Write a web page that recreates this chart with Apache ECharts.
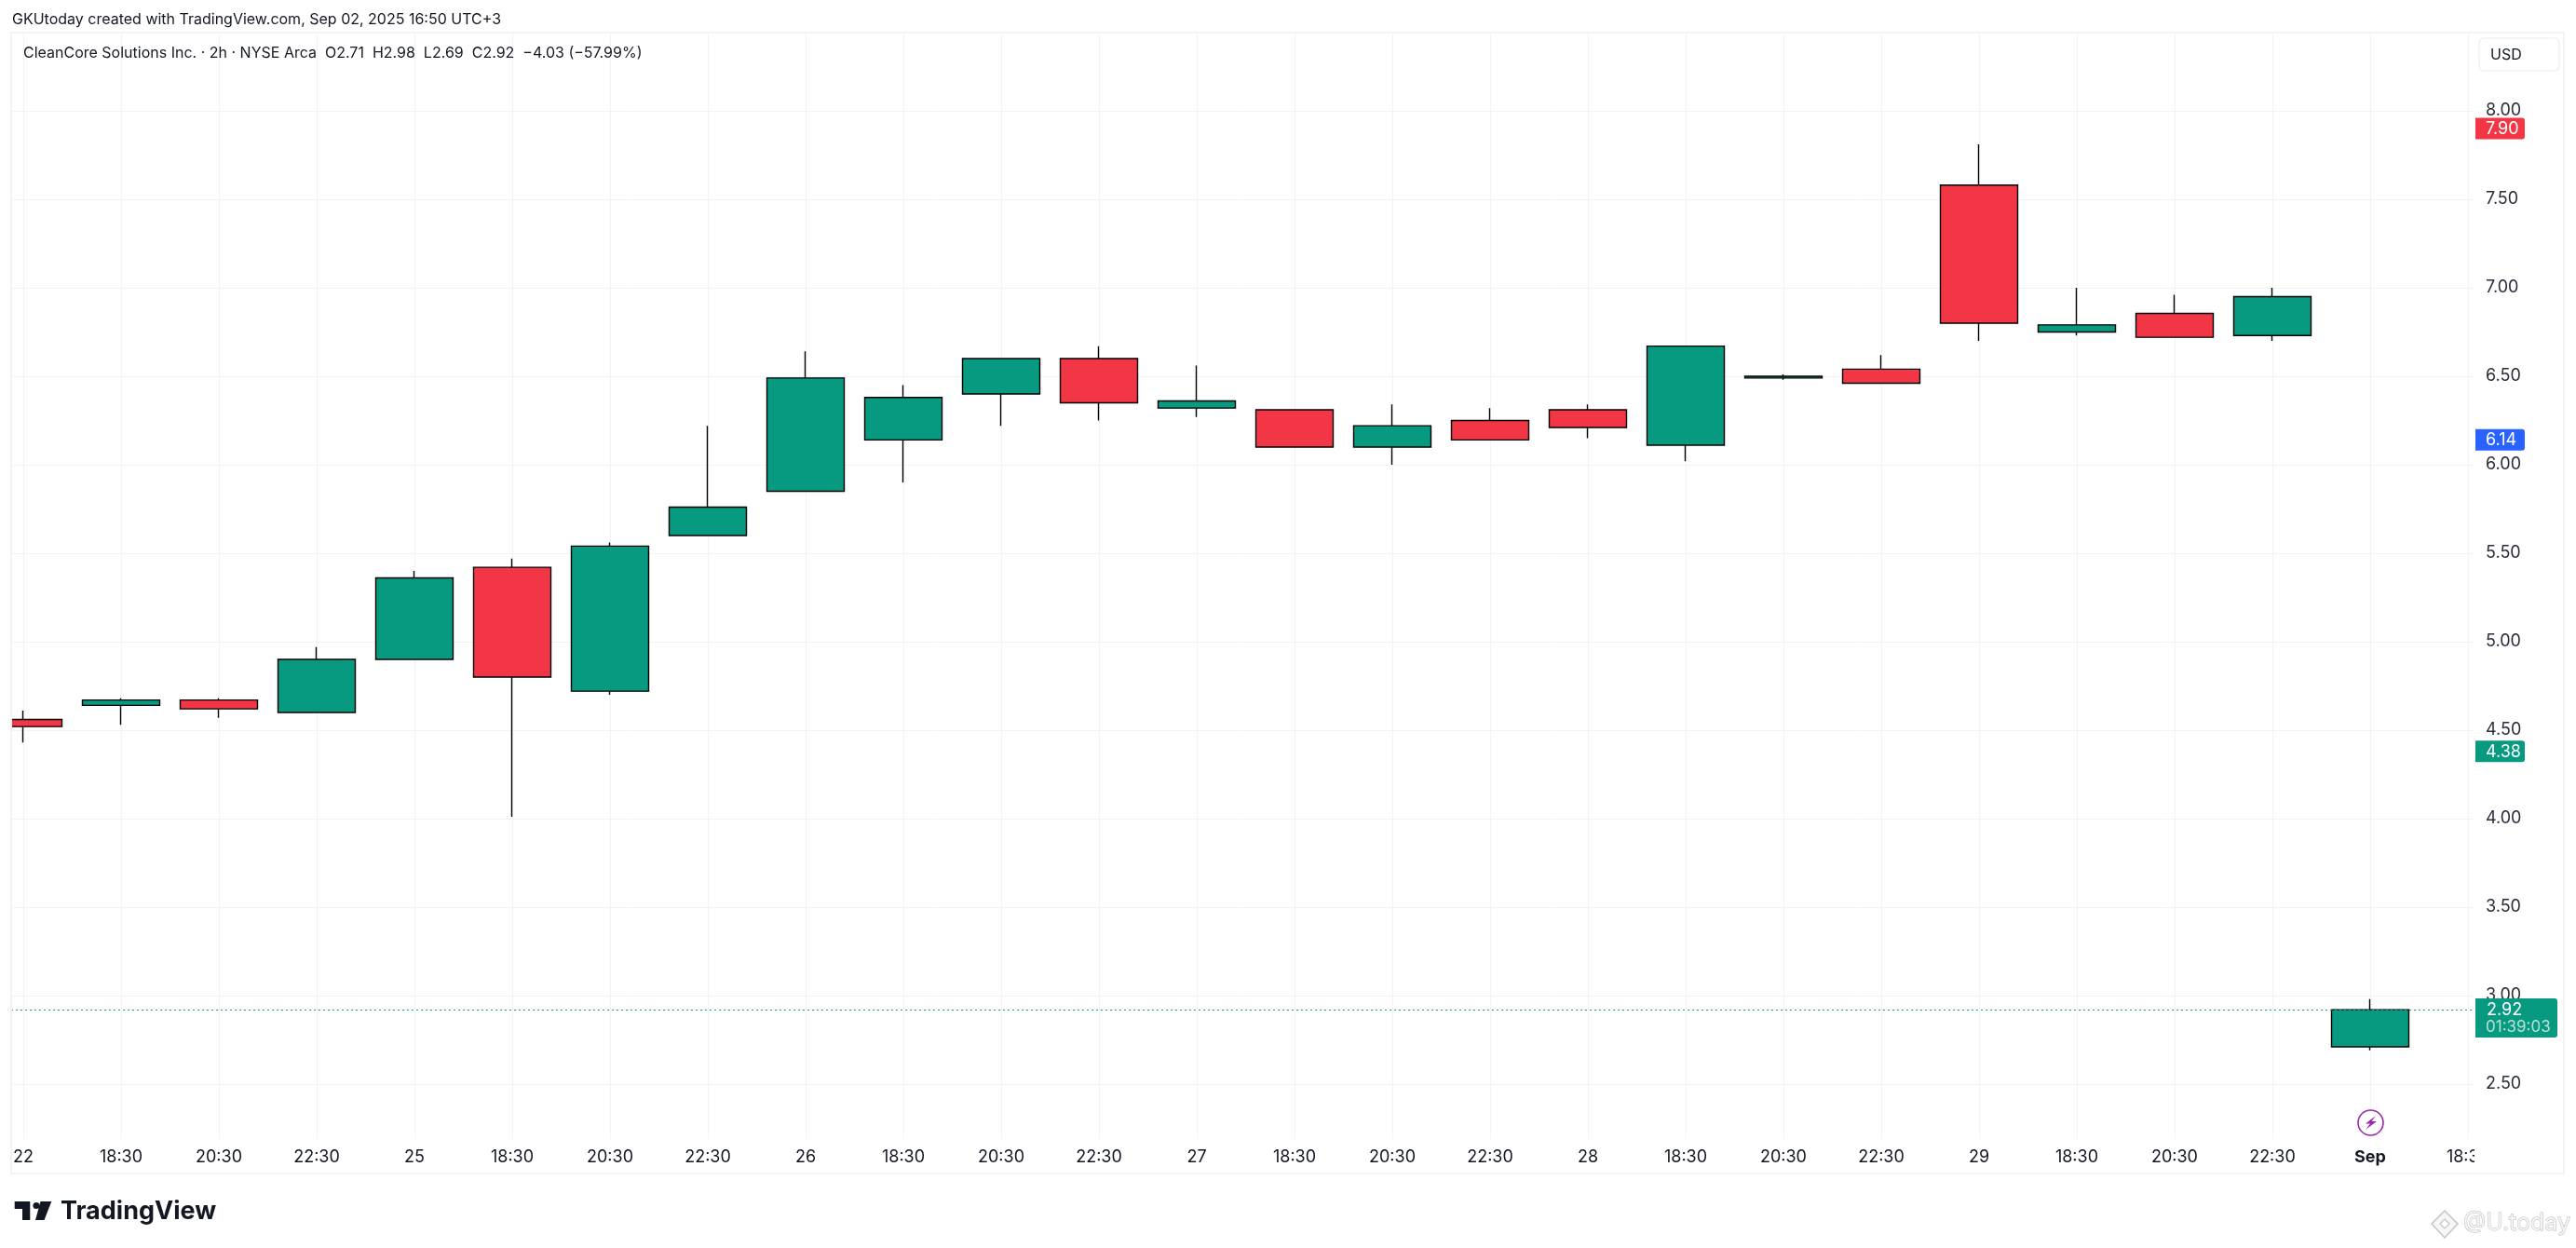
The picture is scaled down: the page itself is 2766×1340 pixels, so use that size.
<!DOCTYPE html>
<html>
<head>
<meta charset="utf-8">
<title>CleanCore Solutions Inc. 2h</title>
<style>
    html, body { margin: 0; padding: 0; background: #fff; }
    #chart { width: 2766px; height: 1340px; }
</style>
<script src="https://cdn.jsdelivr.net/npm/echarts@6/dist/echarts.min.js"></script>
</head>
<body>
<div id="chart"></div>
<script>
// values
const xLabels = ['22', '18:30', '20:30', '22:30', '25', '18:30', '20:30', '22:30', '26', '18:30', '20:30', '22:30',
    '27', '18:30', '20:30', '22:30', '28', '18:30', '20:30', '22:30', '29', '18:30', '20:30', '22:30', 'Sep', '18:30']
const opens = [4.56, 4.64, 4.67, 4.60, 4.90, 5.42, 4.72, 5.60, 5.85, 6.14, 6.40, 6.60, 6.32, 6.31, 6.10, 6.25, 6.31, 6.11, 6.49, 6.54, 7.58, 6.75, 6.855, 6.73, 2.71]
const closes = [4.52, 4.67, 4.62, 4.90, 5.36, 4.80, 5.54, 5.76, 6.49, 6.38, 6.60, 6.35, 6.36, 6.10, 6.22, 6.14, 6.21, 6.67, 6.50, 6.46, 6.80, 6.79, 6.72, 6.95, 2.92]
const lows = [4.43, 4.53, 4.57, 4.60, 4.90, 4.01, 4.70, 5.60, 5.85, 5.90, 6.22, 6.25, 6.27, 6.10, 6.00, 6.14, 6.15, 6.02, 6.48, 6.46, 6.70, 6.73, 6.72, 6.70, 2.69]
const highs = [4.61, 4.68, 4.68, 4.97, 5.40, 5.47, 5.56, 6.22, 6.64, 6.45, 6.60, 6.67, 6.56, 6.31, 6.34, 6.32, 6.34, 6.67, 6.51, 6.62, 7.81, 7.00, 6.96, 7.00, 2.98]
const priceTicks = [2.5, 3, 3.5, 4, 4.5, 5, 5.5, 6, 6.5, 7, 7.5, 8]
const tagPrices = [7.90, 6.14, 4.38]
const tagColors = ['#f23645', '#2962ff', '#089981']
const lastPrice = 2.92
const lastCountdown = '01:39:03'

const headerText = 'GKUtoday created with TradingView.com, Sep 02, 2025 16:50 UTC+3'
const legendText = 'CleanCore Solutions Inc. · 2h · NYSE Arca  O2.71  H2.98  L2.69  C2.92  −4.03 (−57.99%)'

const FONT = 'Inter, "Noto Sans", sans-serif'
const GRID_COLOR = '#f2f3f5'
const TEXT_COLOR = '#131722'

const candles = opens.map((o, i) => [i, o, closes[i], lows[i], highs[i]])
const xTicks = xLabels.map((_, i) => i)

var myChart = echarts.init(document.getElementById('chart'))

var option = {
    animation: false,
    grid: { left: 12, right: 109, top: 35, bottom: 117 },
    xAxis: {
        type: 'value',
        min: -0.124,
        max: 25.067,
        axisLine: { show: false },
        axisTick: { show: false, customValues: xTicks },
        axisLabel: {
            customValues: xTicks,
            margin: 11,
            color: TEXT_COLOR,
            fontFamily: FONT,
            fontSize: 18,
            formatter: function (v) {
                return xLabels[v] === 'Sep' ? '{b|Sep}' : xLabels[v]
            },
            rich: { b: { fontFamily: FONT, fontSize: 18, fontWeight: 'bold', color: TEXT_COLOR } }
        },
        splitLine: { show: true, lineStyle: { color: GRID_COLOR, width: 1 } }
    },
    yAxis: {
        type: 'value',
        position: 'right',
        min: 2.189,
        max: 8.442,
        axisLine: { show: false },
        axisTick: { show: false, customValues: priceTicks },
        axisLabel: {
            customValues: priceTicks,
            margin: 12,
            color: '#2a2e39',
            fontFamily: FONT,
            fontSize: 18,
            formatter: function (v) { return v.toFixed(2) }
        },
        splitLine: { show: true, lineStyle: { color: GRID_COLOR, width: 1 } }
    },
    series: [{
        type: 'candlestick',
        barWidth: 83,
        data: candles,
        itemStyle: {
            color: '#089981',
            color0: '#f23645',
            borderColor: '#000',
            borderColor0: '#000',
            borderColorDoji: '#000',
            borderWidth: 1.4
        },
        markLine: {
            silent: true,
            symbol: 'none',
            label: { show: false },
            lineStyle: { color: '#089981', type: [2, 3], width: 1 },
            data: [{ yAxis: lastPrice }]
        }
    }]
}
myChart.setOption(option)

// price tags sit on the axis scale, everything else is page furniture
function priceY(p) {
    return myChart.convertToPixel({ yAxisIndex: 0 }, p)
}

function tagText(x, y, text, fill, size) {
    return {
        type: 'text', z: 102, x: x, y: y,
        style: { text: text, fill: fill, font: size + 'px ' + FONT, textVerticalAlign: 'middle' }
    }
}

let elements = [
    // the first candle is cut off by the pane edge
    {
        type: 'rect', z: 100, silent: true,
        shape: { x: 0, y: 36, width: 12, height: 1224 },
        style: { fill: '#fff' }
    },
    // so is the last time label
    {
        type: 'rect', z: 100, silent: true,
        shape: { x: 2657, y: 1226, width: 30, height: 32 },
        style: { fill: '#fff' }
    },
    // pane frame
    {
        type: 'rect', z: 101, silent: true,
        shape: { x: 12, y: 35, width: 2741, height: 1225 },
        style: { fill: 'none', stroke: '#f3f3f4', lineWidth: 2 }
    },
    tagText(13, 21, headerText, TEXT_COLOR, 16),
    tagText(25, 57, legendText, TEXT_COLOR, 16),
    // currency button
    {
        type: 'rect', z: 101,
        shape: { x: 2662, y: 41, width: 86, height: 35, r: 5 },
        style: { fill: '#fff', stroke: '#f0f1f3', lineWidth: 1.5 }
    },
    tagText(2674, 59, 'USD', TEXT_COLOR, 16),
    // flash icon above Sep
    {
        type: 'circle', z: 101,
        shape: { cx: 2545.5, cy: 1205.5, r: 13.5 },
        style: { fill: '#fff', stroke: '#9c27b0', lineWidth: 1.6 }
    },
    {
        type: 'polygon', z: 102,
        shape: { points: [[2551, 1198], [2540, 1206.5], [2545, 1206.5], [2540, 1213], [2552, 1204], [2546.5, 1204]] },
        style: { fill: '#9c27b0' }
    },
    // TradingView mark
    {
        type: 'polygon', z: 102,
        shape: { points: [[15.7, 1290], [32.3, 1290], [32.3, 1310], [24, 1310], [24, 1298], [15.7, 1298]] },
        style: { fill: TEXT_COLOR }
    },
    { type: 'circle', z: 102, shape: { cx: 39, cy: 1294.5, r: 3.6 }, style: { fill: TEXT_COLOR } },
    {
        type: 'polygon', z: 102,
        shape: { points: [[43.5, 1290], [55.3, 1290], [47.5, 1310], [38, 1310]] },
        style: { fill: TEXT_COLOR }
    },
    { type: 'text', z: 102, x: 65, y: 1301, style: { text: 'TradingView', fill: TEXT_COLOR, font: '700 27px ' + FONT, textVerticalAlign: 'middle' } },
    // watermark
    {
        type: 'polygon', z: 102, silent: true,
        shape: { points: [[2625, 1300], [2639, 1314], [2625, 1329], [2611, 1314]] },
        style: { fill: '#f6f6f6', stroke: '#c4c4c4', lineWidth: 1.5 }
    },
    {
        type: 'polygon', z: 102, silent: true,
        shape: { points: [[2625, 1309], [2630, 1314], [2625, 1319], [2620, 1314]] },
        style: { fill: '#fff', stroke: '#c4c4c4', lineWidth: 1.2 }
    },
    {
        type: 'text', z: 102, x: 2645, y: 1313,
        style: { text: '@U.today', fill: '#f4f4f4', stroke: '#b8b8b8', lineWidth: 1, font: '25px ' + FONT, textVerticalAlign: 'middle' }
    }
]

tagPrices.forEach((p, i) => {
    let y = priceY(p)
    elements.push({
        type: 'rect', z: 101,
        shape: { x: 2658, y: y - 11.5, width: 53, height: 23, r: [0, 3, 3, 0] },
        style: { fill: tagColors[i] }
    })
    elements.push(tagText(2669, y + 0.5, p.toFixed(2), '#fff', 18))
})

// last price tag with the bar countdown
let lastY = priceY(lastPrice)
elements.push({
    type: 'rect', z: 101,
    shape: { x: 2658, y: lastY - 12, width: 88, height: 42, r: [0, 3, 3, 0] },
    style: { fill: '#089981' }
})
elements.push(tagText(2670, lastY + 0.5, lastPrice.toFixed(2), '#fff', 18))
elements.push(tagText(2669, lastY + 19, lastCountdown, 'rgba(255,255,255,0.7)', 17))

myChart.setOption({ graphic: { elements: elements } })
</script>
</body>
</html>
